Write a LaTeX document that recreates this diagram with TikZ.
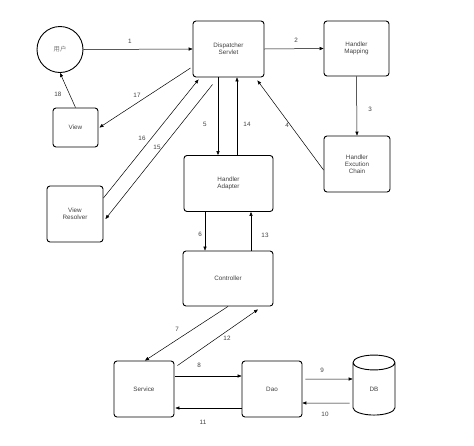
\documentclass[tikz,border=0pt]{standalone}
\usepackage{fontspec}
\setmainfont{Liberation Sans}
\newfontfamily\cjk{Noto Sans CJK SC}
\usetikzlibrary{arrows.meta,shapes.geometric}
\begin{document}
\begin{tikzpicture}[x=1pt,y=-1pt,
  box/.style={draw=black,line width=0.9pt,rounded corners=3pt,align=center,font=\fontsize{6.3}{7.2}\selectfont,text=black!75},
  arr/.style={line width=0.5pt,-{Triangle[length=4pt,width=3.2pt]}},
  lbl/.style={font=\fontsize{6.3}{7.2}\selectfont,text=black!75}]
\useasboundingbox (0,0) rectangle (474,445);
\node[draw=black,line width=0.9pt,circle,minimum size=46pt,inner sep=0pt,text=black!55,font=\cjk\fontsize{6.3}{7.2}\selectfont] (user) at (60,49.5) {用户};
\node[box,minimum width=71pt,minimum height=56pt] (ds) at (228.5,49) {Dispatcher\\Servlet};
\node[box,minimum width=65pt,minimum height=55pt] (hm) at (356.5,48.5) {Handler\\Mapping};
\node[box,minimum width=66pt,minimum height=56pt] (hec) at (357,164) {Handler\\Excution\\Chain};
\node[box,minimum width=89pt,minimum height=56pt] (ha) at (228.5,183.5) {Handler\\Adapter};
\node[box,minimum width=45pt,minimum height=39pt] (view) at (75.5,127.5) {View};
\node[box,minimum width=56pt,minimum height=56pt] (vr) at (75,214) {View\\Resolver};
\node[box,minimum width=90pt,minimum height=55pt] (ctrl) at (228,278.5) {Controller};
\node[box,minimum width=60pt,minimum height=56pt] (svc) at (144,389) {Service};
\node[box,minimum width=60pt,minimum height=56pt] (dao) at (272,389) {Dao};
\node[draw=black,line width=0.9pt,cylinder,shape border rotate=90,aspect=1.7,minimum width=42pt,minimum height=60pt,inner sep=0pt,font=\fontsize{6.3}{7.2}\selectfont,text=black!75] (db) at (374,389) {DB};
% connectors
\draw[arr] (user.east) -- (ds.west);
\draw[arr] (ds.east) -- (hm.west);
\draw[arr] (hm.south) -- (hec.north);
\draw[arr] ([yshift=-6pt]hec.west) -- ([xshift=-7pt,yshift=-3pt]ds.south east);
\draw[arr] ([xshift=-10.5pt]ds.south) -- ([xshift=-10.5pt]ha.north);
\draw[arr] ([xshift=8.5pt]ha.north) -- ([xshift=8.5pt]ds.south);
\draw[arr] ([xshift=-2pt,yshift=-19pt]ds.west) -- ([xshift=1pt]view.east);
\draw[arr] ([yshift=16pt]vr.east) -- ([xshift=6pt,yshift=-2pt]ds.south west);
\draw[arr] ([xshift=20pt,yshift=-7pt]ds.south west) -- ([xshift=2pt,yshift=-5pt]vr.east);
\draw[arr] ([xshift=-23.5pt]ha.south) -- ([xshift=-23pt]ctrl.north);
\draw[arr] ([xshift=23pt]ctrl.north) -- ([xshift=22.5pt]ha.south);
\draw[arr] (ctrl.south) -- ([xshift=1pt]svc.north);
\draw[arr] ([xshift=3pt,yshift=-5pt]svc.north east) -- ([xshift=30pt,yshift=-3pt]ctrl.south);
\draw[arr] ([xshift=1pt,yshift=13pt]svc.east) -- ([yshift=13pt]dao.west);
\draw[arr] ([yshift=-19pt]dao.west) -- ([xshift=1pt,yshift=-19pt]svc.east);
\draw[arr] ([xshift=3pt,yshift=10pt]dao.east) -- ([yshift=10pt]db.west);
\draw[arr] ([xshift=-3pt,yshift=-14pt]db.west) -- ([yshift=-14pt]dao.east);
\draw[arr] (view.north) -- (user.south);
% labels
\node[lbl] (l1) at (130,41) {1};
\node[lbl] (l2) at (296,40) {2};
\node[lbl] (l3) at (370,109) {3};
\node[lbl] (l4) at (287,125) {4};
\node[lbl] (l5) at (205,124) {5};
\node[lbl] (l14) at (247,124) {14};
\node[lbl] (l17) at (137,95) {17};
\node[lbl] (l16) at (142,138) {16};
\node[lbl] (l15) at (157,147) {15};
\node[lbl] (l6) at (200,234) {6};
\node[lbl] (l13) at (265,235) {13};
\node[lbl] (l7) at (177,329) {7};
\node[lbl] (l12) at (227,338) {12};
\node[lbl] (l8) at (199,365) {8};
\node[lbl] (l11) at (203,422) {11};
\node[lbl] (l9) at (322,370) {9};
\node[lbl] (l10) at (325,414) {10};
\node[lbl] (l18) at (58,94) {18};
\end{tikzpicture}
\end{document}
